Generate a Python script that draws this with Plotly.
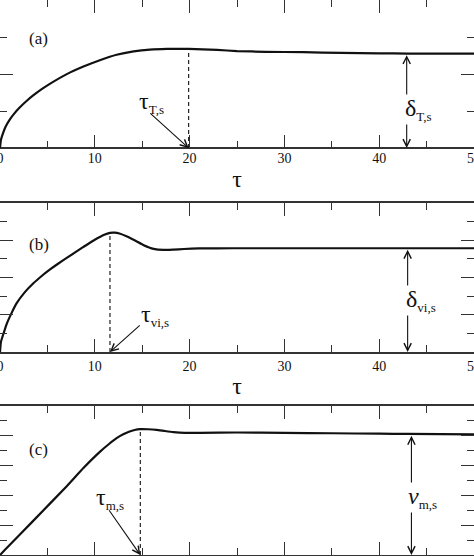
import plotly.graph_objects as go

# ---------------- data ----------------
# panel (a): delta_T vs tau
tau_a = [0, 0.1, 0.35, 0.6, 1.06, 1.5, 2.1, 2.8, 3.5, 4.4, 5.3, 7.0, 8.8, 10.6, 12.3, 14.1, 15.8, 17.6, 19.9, 22.9, 25, 28, 32, 36, 40, 43, 46, 50]
val_a = [0, 0.22, 0.42, 0.58, 0.78, 0.93, 1.1, 1.27, 1.42, 1.59, 1.74, 1.99, 2.2, 2.38, 2.52, 2.61, 2.66, 2.68, 2.68, 2.65, 2.62, 2.6, 2.59, 2.57, 2.56, 2.55, 2.55, 2.55]
tau_s_a = 19.9
peak_a = 2.68
final_a = 2.55

# panel (b): delta_vi vs tau
tau_b = [0, 0.1, 0.42, 0.7, 1.23, 1.76, 2.6, 3.52, 4.4, 5.28, 6.16, 7.04, 8.8, 10.0, 11.0, 11.6, 12.1, 12.6, 13.4, 14.3, 15.1, 16.2, 17.25, 18.3, 19.4, 21, 24.6, 30, 40, 50]
val_b = [0, 0.55, 1.07, 1.5, 2.1, 2.62, 3.2, 3.69, 4.08, 4.43, 4.75, 5.05, 5.64, 6.03, 6.3, 6.4, 6.41, 6.36, 6.2, 5.97, 5.75, 5.54, 5.48, 5.5, 5.53, 5.56, 5.57, 5.57, 5.57, 5.57]
tau_s_b = 11.6
peak_b = 6.4
final_b = 5.57

# panel (c): v_m vs tau
tau_c = [0, 0.5, 3.5, 7.04, 8.8, 10.56, 11.5, 12.3, 13.0, 13.6, 14.2, 14.8, 15.6, 16.5, 17.4, 18.3, 19.5, 21.1, 25, 30, 35, 40, 43, 50]
val_c = [0, 0.33, 2.29, 4.62, 5.84, 6.94, 7.45, 7.84, 8.1, 8.27, 8.39, 8.45, 8.44, 8.4, 8.32, 8.25, 8.2, 8.2, 8.22, 8.2, 8.17, 8.14, 8.13, 8.1]
tau_s_c = 14.8
peak_c = 8.45
final_c = 8.1

x_range = [0, 50]
y_ranges = [[0, 4], [0, 8], [0, 10]]
x_tickvals = [0, 10, 20, 30, 40, 50]
x_ticktext = ["0", "10", "20", "30", "40", "50"]

FONT = "Liberation Serif"
INK = "#111111"
FRAME = "#333333"

fig = go.Figure()

panels = [
    ("", "y", tau_a, val_a, tau_s_a, peak_a),
    ("2", "y2", tau_b, val_b, tau_s_b, peak_b),
    ("3", "y3", tau_c, val_c, tau_s_c, peak_c),
]
for sfx, yname, xs, ys, ts, pk in panels:
    fig.add_trace(go.Scatter(x=xs, y=ys, mode="lines", xaxis="x" + sfx, yaxis=yname,
                             line=dict(color=INK, width=2.2, shape="spline", smoothing=0.4),
                             showlegend=False, hoverinfo="skip"))
    fig.add_trace(go.Scatter(x=[ts, ts], y=[0, pk], mode="lines", xaxis="x" + sfx, yaxis=yname,
                             line=dict(color=INK, width=1.1, dash="4px,3px"),
                             showlegend=False, hoverinfo="skip"))

domains = [[1 - 148 / 555, 1.0], [1 - 352 / 555, 1 - 203 / 555], [0.0, 1 - 406 / 555]]

def xax(anchor, labels, title, showline):
    return dict(domain=[0, 1], anchor=anchor, range=x_range, tickmode="array",
                tickvals=x_tickvals, ticktext=x_ticktext, showticklabels=labels,
                ticklabeloverflow="allow", automargin=False,
                ticks="inside", ticklen=13, tickwidth=1.2, tickcolor=FRAME,
                minor=dict(dtick=5, ticks="inside", ticklen=7, tickwidth=1.2, tickcolor=FRAME),
                showline=showline, linecolor=FRAME, linewidth=1.6, mirror="ticks",
                showgrid=False, zeroline=False,
                tickfont=dict(family=FONT, size=14, color=INK),
                title=dict(text=title, font=dict(family=FONT, size=24, color=INK), standoff=5))

def yax(anchor, dom, rng, zl):
    return dict(domain=dom, anchor=anchor, range=rng, dtick=2, showticklabels=False,
                automargin=False,
                ticks="inside", ticklen=13, tickwidth=1.2, tickcolor=FRAME,
                minor=dict(dtick=1, ticks="inside", ticklen=7, tickwidth=1.2, tickcolor=FRAME),
                showline=False, mirror="ticks", showgrid=False,
                zeroline=zl, zerolinecolor=FRAME, zerolinewidth=1.6)

fig.update_layout(
    width=474, height=556,
    margin=dict(l=0, r=0, t=0, b=1, pad=0, autoexpand=False),
    paper_bgcolor="white", plot_bgcolor="white",
    font=dict(family=FONT, color=INK),
    xaxis=xax("y", True, "τ", False),
    xaxis2=xax("y2", True, "τ", True),
    xaxis3=xax("y3", False, "", True),
    yaxis=yax("x", domains[0], y_ranges[0], True),
    yaxis2=yax("x2", domains[1], y_ranges[1], False),
    yaxis3=yax("x3", domains[2], y_ranges[2], False),
)

ann = []
# panel letters
for lab, xr, yr, yy in [("(a)", "x domain", "y domain", 0.818),
                         ("(b)", "x2 domain", "y2 domain", 0.80),
                         ("(c)", "x3 domain", "y3 domain", 0.785)]:
    ann.append(dict(text=lab, xref=xr, yref=yr, x=0.058, y=yy, showarrow=False,
                    font=dict(family=FONT, size=17, color=INK)))

SUB = "<span style='font-size:13px'>%s</span>"

def arrow(xr, yr, x, y, ax, ay, both=False):
    return dict(text="", xref=xr, yref=yr, axref=xr, ayref=yr, x=x, y=y, ax=ax, ay=ay,
                showarrow=True, arrowhead=5, startarrowhead=5, arrowsize=1.3, startarrowsize=1.3,
                arrowwidth=1.1, arrowcolor=INK, standoff=0, startstandoff=0,
                arrowside="end+start" if both else "end")

def label(xr, yr, x, y, main, sub, italic=False, bg=False):
    m = "<i>%s</i>" % main if italic else main
    return dict(text=m + "<sub>" + (SUB % sub) + "</sub>", xref=xr, yref=yr, x=x, y=y,
                showarrow=False, font=dict(family=FONT, size=24, color=INK),
                bgcolor="white" if bg else None, borderpad=0)

# (a)
ann.append(arrow("x", "y", tau_s_a, 0, 15.7, 0.97))
ann.append(label("x", "y", 16.0, 1.22, "τ", "T,s"))
ann.append(arrow("x", "y", 42.9, 0, 42.9, final_a, both=True))
ann.append(label("x", "y", 44.1, 1.05, "δ", "T,s", bg=True))
# (b)
ann.append(arrow("x2", "y2", tau_s_b, 0, 14.9, 1.5))
ann.append(label("x2", "y2", 16.4, 1.95, "τ", "vi,s"))
ann.append(arrow("x2", "y2", 43.0, 0, 43.0, final_b, both=True))
ann.append(label("x2", "y2", 44.4, 2.75, "δ", "vi,s", bg=True))
# (c)
ann.append(arrow("x3", "y3", tau_s_c, 0, 11.4, 3.1))
ann.append(label("x3", "y3", 11.6, 3.8, "τ", "m,s"))
ann.append(arrow("x3", "y3", 43.4, 0, 43.4, final_c, both=True))
ann.append(label("x3", "y3", 44.6, 3.85, "v", "m,s", italic=True, bg=True))

fig.update_layout(annotations=ann)
fig.write_html("out.html", config={"displayModeBar": False},
               post_script="document.body.style.margin='0';document.body.style.overflow='hidden';")
